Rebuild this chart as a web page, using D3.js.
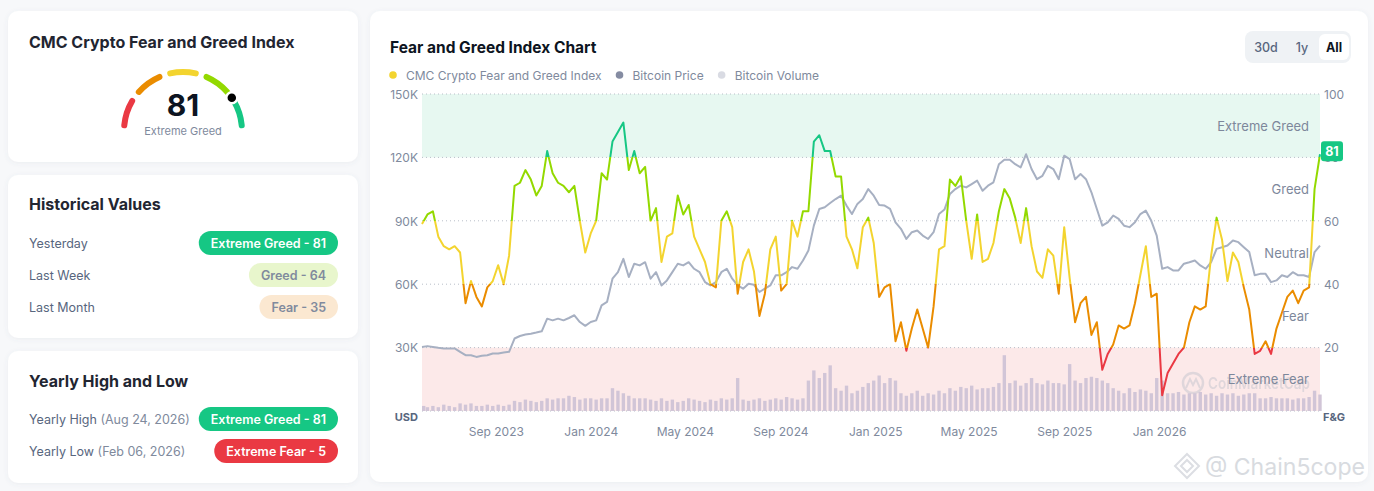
<!DOCTYPE html>
<html>
<head>
<meta charset="utf-8">
<script src="https://cdn.jsdelivr.net/npm/d3@7"></script>
<style>
  html, body { margin: 0; padding: 0; background: #f7f8fa; }
  body { width: 1374px; height: 491px; overflow: hidden; font-family: Inter, "Noto Sans", sans-serif; }
  svg text { font-family: Inter, "Noto Sans", sans-serif; }
</style>
</head>
<body>
<script>
// weekly samples, first week starts 2023-05-29
const startDay = new Date(2023, 4, 29)

const fgValues = [
  59, 62, 63, 55, 52, 51, 52, 50, 34, 41, 36, 33, 39, 41, 46, 40, 49, 71, 72, 76,
  73, 68, 71, 82, 75, 72, 71, 69, 71, 60, 50, 56, 60, 75, 73, 85, 88, 91, 76, 82,
  75, 77,
  60, 64, 47, 55, 56, 68, 62, 65, 55, 51, 47, 40, 39, 60, 63, 58, 37, 47, 51, 44,
  30, 37, 51, 55, 38, 40, 60, 55, 63, 63, 85, 87, 82, 82, 74, 74, 55, 51, 45, 58,
  61,
  53, 36, 39, 40, 22, 28, 19, 26, 32, 26, 20, 33, 51, 52, 73, 71, 74, 60, 48, 62,
  47, 48, 53, 63, 70, 67, 61, 53, 64, 52, 44, 42, 51, 49, 37, 58, 42, 28, 34, 36,
  24,
  28, 13, 18, 21, 27, 26, 27, 34, 43, 52, 36, 37, 5, 12, 15, 18, 20, 28, 33, 32,
  33, 49, 61, 54, 41, 50, 47, 39, 32, 18, 19, 22, 18, 26, 31, 36, 38, 34, 38, 39,
  70, 81
]

// bitcoin price, thousand USD
const priceValues = [
  30.3, 30.7, 30.3, 29.9, 29.6, 29.6, 29.6, 28, 26.4, 26.4, 25.6, 26.1, 26.4, 27.2, 27.2, 27.7, 28, 34.3, 35.5, 36.2,
  36.6, 37.1, 37.7, 43.7, 42.9, 43.7, 42.9, 44, 45.3, 42.1, 40.3, 42.1, 42.9, 50, 51.6, 62.6, 65.7, 72, 63.4, 69.7,
  68.9, 70.4,
  62.6, 65.7, 59.4, 61.8, 65.7, 69.7, 68.9, 70.4, 67.3, 65.7, 61, 59.4, 61, 65.7, 67.3, 62.6, 59.4, 57.9, 60.2, 59.7,
  56.3, 57.9, 59.4, 64.2, 64.2, 65.7, 68.1, 67.3, 71.2, 75.9, 87.7, 95.6, 96.4, 98.4, 100.3, 101.9, 97.2, 93.2, 98, 100.3,
  105,
  101.9, 97.5, 97.2, 95.6, 89.3, 86.2, 81.4, 84.6, 85.4, 83, 81.4, 84.6, 93.2, 95.3, 102.7, 105, 106.6, 105.8, 107.4, 109,
  104.2, 106.6, 108.2, 116.8, 118.9, 118.9, 116.8, 115.3, 121.5, 114.5, 109.7, 111.3, 116, 114.5, 109.7, 120.8, 119.2, 109.7, 112.1, 109.7,
  103.5,
  95.6, 87.7, 89.3, 92.5, 90.9, 87.7, 87, 89.3, 93.2, 94.8, 90, 83, 67.3, 68.1, 66.5, 66.5, 69.7, 70.4, 71.2, 68.9,
  67.3, 70.4, 76.7, 77.5, 78.3, 80.7, 79.9, 77.5, 75.2, 64.2, 64.9, 64.9, 61, 61.8, 64.2, 63.4, 65.7, 64.2, 64.2, 63.4,
  75.2, 78.3
]

// bitcoin volume, billion USD
const volumeValues = [
  4, 3, 4, 3, 5, 4, 3, 6, 5, 6, 4, 4, 5, 4, 5, 4, 5, 8, 7, 9,
  8, 7, 8, 10, 9, 10, 10, 12, 11, 9, 10, 10, 9, 10, 10, 18, 16, 14, 12, 10,
  10, 10,
  9, 8, 10, 8, 9, 7, 8, 10, 9, 8, 7, 9, 8, 10, 9, 10, 26, 9, 8, 9,
  10, 8, 9, 10, 9, 11, 10, 9, 10, 24, 32, 26, 30, 36, 18, 16, 20, 14, 16, 19,
  22,
  24, 28, 22, 26, 24, 14, 12, 14, 16, 12, 14, 13, 16, 14, 18, 16, 19, 18, 20, 17,
  18, 18, 19, 22, 44, 22, 24, 20, 22, 26, 22, 21, 24, 22, 22, 21, 37, 24, 22, 26,
  27,
  26, 24, 22, 18, 16, 14, 18, 15, 17, 16, 14, 26, 24, 14, 14, 15, 13, 14, 14, 15,
  13, 14, 12, 14, 13, 14, 12, 13, 14, 14, 10, 10, 11, 10, 10, 10, 9, 10, 10, 11,
  16, 13
]

const xTickDates = ['2023-09-01', '2024-01-01', '2024-05-01', '2024-09-01', '2025-01-01', '2025-05-01', '2025-09-01', '2026-01-01']
const priceTicks = [30000, 60000, 90000, 120000, 150000]
const fgTicks = [20, 40, 60, 80, 100]
const zoneNames = ['Extreme Fear', 'Fear', 'Neutral', 'Greed', 'Extreme Greed']
const zoneColors = ['#ea3943', '#ea8c00', '#f3d42f', '#93d900', '#16c784']
const legendNames = ['CMC Crypto Fear and Greed Index', 'Bitcoin Price', 'Bitcoin Volume']
const legendColors = ['#f3d42f', '#858ca2', '#d9dbe3']
const rangeButtons = ['30d', '1y', 'All']

const currentValue = 81
const currentLabel = 'Extreme Greed'
const historyRows = [
  { label: 'Yesterday', badge: 'Extreme Greed - 81', fill: '#16c784', color: '#fff' },
  { label: 'Last Week', badge: 'Greed - 64', fill: '#e8f6cc', color: '#808a9d' },
  { label: 'Last Month', badge: 'Fear - 35', fill: '#fbe8d1', color: '#808a9d' }
]
const yearlyRows = [
  { label: 'Yearly High', date: '(Aug 24, 2026)', badge: 'Extreme Greed - 81', fill: '#16c784', color: '#fff' },
  { label: 'Yearly Low', date: '(Feb 06, 2026)', badge: 'Extreme Fear - 5', fill: '#ea3943', color: '#fff' }
]

// layout
let m = { left: 422, right: 1320, top: 94, bottom: 411 }

let svg = d3.select('body').append('svg')
  .attr('width', 1374)
  .attr('height', 491)

let defs = svg.append('defs')
let shadow = defs.append('filter').attr('id', 'shadow')
  .attr('x', '-5%').attr('y', '-5%').attr('width', '110%').attr('height', '115%')
shadow.append('feDropShadow')
  .attr('dx', 0).attr('dy', 1).attr('stdDeviation', 2.5)
  .attr('flood-color', '#58667e').attr('flood-opacity', 0.08)

// cards
let cards = [
  { x: 8, y: 11, w: 350, h: 151 },
  { x: 8, y: 175, w: 350, h: 163 },
  { x: 8, y: 351, w: 350, h: 132 },
  { x: 370, y: 11, w: 998, h: 471 }
]
svg.selectAll('rect.card')
  .data(cards)
  .enter()
  .append('rect')
    .attr('class', 'card')
    .attr('x', d => d.x).attr('y', d => d.y)
    .attr('width', d => d.w).attr('height', d => d.h)
    .attr('rx', 10)
    .attr('fill', '#fff')
    .attr('filter', 'url(#shadow)')

// ---------- gauge card ----------
svg.append('text')
  .attr('x', 29).attr('y', 48)
  .attr('font-size', 16).attr('font-weight', 700).attr('fill', '#222531')
  .text('CMC Crypto Fear and Greed Index')

let gauge = svg.append('g').attr('transform', 'translate(183,131)')
let segArc = d3.arc().innerRadius(56).outerRadius(62).cornerRadius(3)
let segSize = Math.PI / 5
gauge.selectAll('path')
  .data(zoneColors)
  .enter()
  .append('path')
    .attr('d', (c, i) => segArc({ startAngle: -Math.PI / 2 + i * segSize + 0.045, endAngle: -Math.PI / 2 + (i + 1) * segSize - 0.045 }))
    .attr('fill', c => c)

let needleAngle = Math.PI - currentValue / 100 * Math.PI
gauge.append('circle')
  .attr('cx', 59 * Math.cos(needleAngle))
  .attr('cy', -59 * Math.sin(needleAngle))
  .attr('r', 5.5)
  .attr('fill', '#000')
  .attr('stroke', '#fff')
  .attr('stroke-width', 2.5)

gauge.append('text')
  .attr('y', -15)
  .attr('text-anchor', 'middle')
  .attr('font-size', 30).attr('font-weight', 700).attr('fill', '#0d1421')
  .text(currentValue)
gauge.append('text')
  .attr('y', 4)
  .attr('text-anchor', 'middle')
  .attr('font-size', 11).attr('fill', '#808a9d')
  .text(currentLabel)

// ---------- history cards ----------
function badgeRows(rows, top) {
  rows.forEach(function(r, i) {
    let cy = top + i * 32
    let t = svg.append('text')
      .attr('x', 29).attr('y', cy)
      .attr('dominant-baseline', 'central')
      .attr('font-size', 12.5).attr('fill', '#58667e')
      .text(r.label)
    if (r.date) {
      t.append('tspan').attr('fill', '#808a9d').text(' ' + r.date)
    }
    let label = svg.append('text')
      .attr('y', cy)
      .attr('text-anchor', 'middle')
      .attr('dominant-baseline', 'central')
      .attr('font-size', 12.5).attr('font-weight', 600).attr('fill', r.color)
      .text(r.badge)
    let w = label.node().getComputedTextLength() + 24
    svg.insert('rect', () => label.node())
      .attr('x', 338 - w).attr('y', cy - 12)
      .attr('width', w).attr('height', 24)
      .attr('rx', 12)
      .attr('fill', r.fill)
    label.attr('x', 338 - w / 2)
  })
}

svg.append('text')
  .attr('x', 29).attr('y', 210)
  .attr('font-size', 16).attr('font-weight', 700).attr('fill', '#222531')
  .text('Historical Values')
badgeRows(historyRows, 243)

svg.append('text')
  .attr('x', 29).attr('y', 387)
  .attr('font-size', 16).attr('font-weight', 700).attr('fill', '#222531')
  .text('Yearly High and Low')
badgeRows(yearlyRows, 419)

// ---------- chart card ----------
svg.append('text')
  .attr('x', 390).attr('y', 53)
  .attr('font-size', 15.5).attr('font-weight', 700).attr('fill', '#0d1421')
  .text('Fear and Greed Index Chart')

// legend
let lx = 393
legendNames.forEach(function(name, i) {
  svg.append('circle').attr('cx', lx).attr('cy', 75).attr('r', 3.8).attr('fill', legendColors[i])
  let t = svg.append('text')
    .attr('x', lx + 13).attr('y', 75)
    .attr('dominant-baseline', 'central')
    .attr('font-size', 12).attr('fill', '#808a9d')
    .text(name)
  lx += t.node().getComputedTextLength() + 31
})

// range buttons
svg.append('rect')
  .attr('x', 1245).attr('y', 31).attr('width', 106).attr('height', 32)
  .attr('rx', 8).attr('fill', '#eff2f5')
svg.append('rect')
  .attr('x', 1319).attr('y', 34).attr('width', 30).attr('height', 26)
  .attr('rx', 6).attr('fill', '#fff')
let btnX = [1266, 1302, 1334]
rangeButtons.forEach(function(b, i) {
  svg.append('text')
    .attr('x', btnX[i]).attr('y', 47)
    .attr('text-anchor', 'middle')
    .attr('dominant-baseline', 'central')
    .attr('font-size', 12.5)
    .attr('font-weight', i == 2 ? 700 : 500)
    .attr('fill', i == 2 ? '#0d1421' : '#58667e')
    .text(b)
})

// scales
let dates = fgValues.map((v, i) => d3.timeDay.offset(startDay, i * 7))
let xScale = d3.scaleTime()
  .domain(d3.extent(dates))
  .range([m.left, m.right])
let yFG = d3.scaleLinear().domain([0, 100]).range([m.bottom, m.top])
let yPrice = d3.scaleLinear().domain([0, 150000]).range([m.bottom, m.top])
let yVol = d3.scaleLinear().domain([0, 250]).range([m.bottom, m.top])

// zone bands
svg.append('rect')
  .attr('x', m.left).attr('y', yFG(100))
  .attr('width', m.right - m.left).attr('height', yFG(80) - yFG(100))
  .attr('fill', '#e7f8f1')
svg.append('rect')
  .attr('x', m.left).attr('y', yFG(20))
  .attr('width', m.right - m.left).attr('height', yFG(0) - yFG(20))
  .attr('fill', '#fce9e9')

// grid
svg.append('g')
  .selectAll('line')
  .data([0].concat(fgTicks))
  .enter()
  .append('line')
    .attr('x1', m.left).attr('x2', m.right)
    .attr('y1', d => yFG(d)).attr('y2', d => yFG(d))
    .attr('stroke', '#b8bec8')
    .attr('stroke-width', 1)
    .attr('stroke-dasharray', '1,3')

// watermark inside plot
let wm = svg.append('g').attr('opacity', 0.4)
wm.append('circle').attr('cx', 1193).attr('cy', 383).attr('r', 10)
  .attr('fill', 'none').attr('stroke', '#b6bcc7').attr('stroke-width', 2.5)
wm.append('path').attr('d', 'M1186,388 L1190,379 L1193,385 L1196,379 L1200,388')
  .attr('fill', 'none').attr('stroke', '#b6bcc7').attr('stroke-width', 2)
wm.append('text').attr('x', 1208).attr('y', 389)
  .attr('font-size', 16).attr('font-weight', 600).attr('fill', '#b6bcc7')
  .attr('textLength', 102).attr('lengthAdjust', 'spacingAndGlyphs')
  .text('CoinMarketCap')

// volume bars
let barW = (xScale(dates[1]) - xScale(dates[0])) * 0.62
svg.append('g')
  .selectAll('rect')
  .data(volumeValues)
  .enter()
  .append('rect')
    .attr('x', (d, i) => Math.max(m.left, xScale(dates[i]) - barW / 2))
    .attr('y', d => yVol(d))
    .attr('width', barW)
    .attr('height', d => yVol(0) - yVol(d))
    .attr('fill', '#d1c5d7')

// price line
svg.append('path')
  .datum(priceValues)
  .attr('fill', 'none')
  .attr('stroke', '#a7b0c2')
  .attr('stroke-width', 2)
  .attr('stroke-linejoin', 'round')
  .attr('d', d3.line()
    .x((d, i) => xScale(dates[i]))
    .y(d => yPrice(d * 1000)))

// fear and greed line, coloured by zone
let grad = defs.append('linearGradient')
  .attr('id', 'fgGrad')
  .attr('gradientUnits', 'userSpaceOnUse')
  .attr('x1', 0).attr('x2', 0)
  .attr('y1', yFG(100)).attr('y2', yFG(0))
zoneColors.slice().reverse().forEach(function(c, i) {
  grad.append('stop').attr('offset', i * 0.2).attr('stop-color', c)
  grad.append('stop').attr('offset', (i + 1) * 0.2).attr('stop-color', c)
})
svg.append('path')
  .datum(fgValues)
  .attr('fill', 'none')
  .attr('stroke', 'url(#fgGrad)')
  .attr('stroke-width', 2)
  .attr('stroke-linejoin', 'round')
  .attr('d', d3.line()
    .x((d, i) => xScale(dates[i]))
    .y(d => yFG(d)))

// zone labels
svg.append('g')
  .selectAll('text')
  .data(zoneNames)
  .enter()
  .append('text')
    .attr('x', 1309)
    .attr('y', (d, i) => yFG(i * 20 + 10))
    .attr('text-anchor', 'end')
    .attr('dominant-baseline', 'central')
    .attr('font-size', 13)
    .attr('fill', '#7d879b')
    .text(d => d)

// axes
let leftAxis = svg.append('g')
  .attr('transform', 'translate(' + (m.left - 4) + ',0)')
  .call(d3.axisLeft(yPrice).tickValues(priceTicks).tickSize(0).tickPadding(0)
    .tickFormat(d => d / 1000 + 'K'))
let rightAxis = svg.append('g')
  .attr('transform', 'translate(' + (m.right + 4) + ',0)')
  .call(d3.axisRight(yFG).tickValues(fgTicks).tickSize(0).tickPadding(0))
let bottomAxis = svg.append('g')
  .attr('transform', 'translate(0,' + (m.bottom + 16) + ')')
  .call(d3.axisBottom(xScale).tickValues(xTickDates.map(d => d3.timeParse('%Y-%m-%d')(d)))
    .tickSize(0).tickPadding(0).tickFormat(d3.timeFormat('%b %Y')))
;[leftAxis, rightAxis, bottomAxis].forEach(function(a) {
  a.select('.domain').remove()
  a.selectAll('text')
    .attr('font-size', 12)
    .attr('fill', '#808a9d')
    .attr('font-family', 'Inter, sans-serif')
})
leftAxis.selectAll('text').attr('dy', '0.35em')
rightAxis.selectAll('text').attr('dy', '0.35em')

svg.append('text')
  .attr('x', m.left - 4).attr('y', m.bottom + 6)
  .attr('text-anchor', 'end').attr('dominant-baseline', 'central')
  .attr('font-size', 11).attr('font-weight', 700).attr('fill', '#58667e')
  .text('USD')
svg.append('text')
  .attr('x', m.right + 3).attr('y', m.bottom + 6)
  .attr('dominant-baseline', 'central')
  .attr('font-size', 11).attr('font-weight', 700).attr('fill', '#58667e')
  .text('F&G')

// current value badge
let by = yFG(fgValues[fgValues.length - 1]) - 3
svg.append('rect')
  .attr('x', m.right + 1).attr('y', by - 10)
  .attr('width', 22).attr('height', 20)
  .attr('rx', 3)
  .attr('fill', '#16c784')
svg.append('text')
  .attr('x', m.right + 12).attr('y', by)
  .attr('text-anchor', 'middle').attr('dominant-baseline', 'central')
  .attr('font-size', 12.5).attr('font-weight', 700).attr('fill', '#fff')
  .text(fgValues[fgValues.length - 1])

// source watermark
let cs = svg.append('g')
cs.append('path')
  .attr('d', 'M1187,454 L1199,466 L1187,478 L1175,466 Z M1187,460 L1193,466 L1187,472 L1181,466 Z')
  .attr('fill', 'none').attr('stroke', '#dcdee3').attr('stroke-width', 2)
cs.append('text')
  .attr('x', 1205).attr('y', 475)
  .attr('font-size', 23).attr('fill', '#d8dbe0')
  .attr('textLength', 160).attr('lengthAdjust', 'spacingAndGlyphs')
  .text('@ Chain5cope')
</script>
</body>
</html>
